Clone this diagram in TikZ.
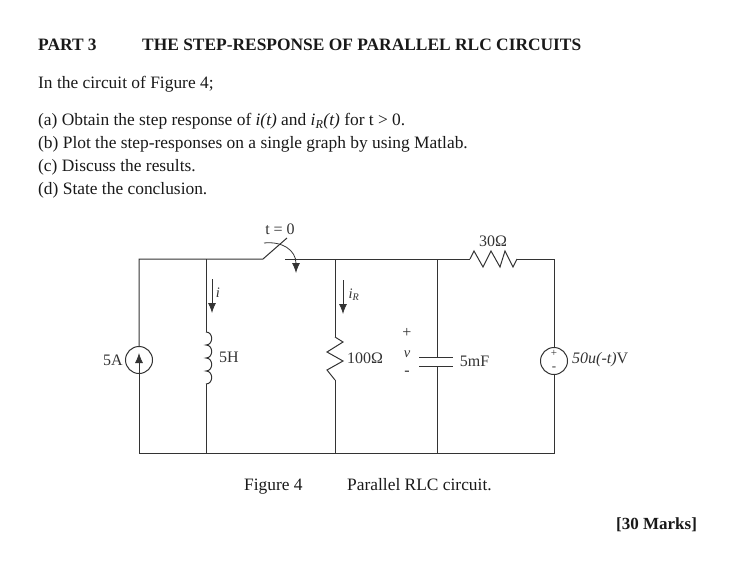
\documentclass[tikz,border=0pt]{standalone}
\usepackage{fontspec}
\setmainfont{Liberation Serif}
\usetikzlibrary{arrows.meta,positioning}
\definecolor{ink}{gray}{0.2}
\tikzstyle{invis}=[inner sep=0pt, anchor=base west, text=black!90, font=\fontsize{17.4}{18}\selectfont]
\tikzstyle{heading}=[invis, font=\fontsize{17.4}{18}\selectfont\bfseries]
\tikzstyle{label}=[inner sep=0pt, text=ink, font=\fontsize{16}{16}\selectfont]
\tikzstyle{wire}=[ink, line width=1pt]
\tikzstyle{source}=[draw=ink, line width=1pt, circle, inner sep=0pt, minimum size=27pt]
\tikzstyle{currentArrow}=[ink, line width=0.8pt, -{Latex[length=10pt,width=8pt]}]
\begin{document}
\begin{tikzpicture}[x=1pt,y=-1pt]
    \useasboundingbox (0,0) rectangle (750,576);

    % text above the circuit
    \node[heading] (part) at (38, 50) {PART 3};
    \node[heading] (title) at (142, 50) {THE STEP-RESPONSE OF PARALLEL RLC CIRCUITS};
    \node[invis] (intro) at (38, 88) {In the circuit of Figure 4;};
    \node[invis] (qa) at (38, 125.5) {(a) Obtain the step response of \textit{i(t)} and \textit{i\textsubscript{R}(t)} for t > 0.};
    \node[invis] (qb) at (38, 148) {(b) Plot the step-responses on a single graph by using Matlab.};
    \node[invis] (qc) at (38, 171) {(c) Discuss the results.};
    \node[invis] (qd) at (38, 194) {(d) State the conclusion.};

    % corners and junctions
    \coordinate (tl) at (139, 259);
    \coordinate (bl) at (139, 453);
    \coordinate (tL) at (206, 259);
    \coordinate (bL) at (206, 453);
    \coordinate (swa) at (263, 259);
    \coordinate (swb) at (287, 238);
    \coordinate (swc) at (285, 259);
    \coordinate (tR) at (335, 259);
    \coordinate (bR) at (335, 453);
    \coordinate (tC) at (437, 259);
    \coordinate (bC) at (437, 453);
    \coordinate (tr) at (554, 259);
    \coordinate (br) at (554, 453);

    % sources
    \node[source] (is) at (139, 360) {};
    \node[source] (vs) at (554, 361) {};
    \node[label, font=\fontsize{11}{11}\selectfont] (vsp) at (554, 353) {+};
    \node[label, font=\fontsize{13}{13}\selectfont] (vsm) at (554, 369) {-};

    % element ends
    \coordinate (la) at (206, 332);
    \coordinate (lb) at (206, 345);
    \coordinate (lc) at (206, 358);
    \coordinate (ld) at (206, 371);
    \coordinate (le) at (206, 384);
    \coordinate (ra) at (335, 337);
    \coordinate (rb) at (335, 380);
    \coordinate (sa) at (470, 259);
    \coordinate (sb) at (517, 259);
    \coordinate (ca) at (437, 357);
    \coordinate (cb) at (437, 366);
    \coordinate (cal) at (419, 357);
    \coordinate (car) at (453, 357);
    \coordinate (cbl) at (419, 366);
    \coordinate (cbr) at (453, 366);

    % wires
    \draw[wire] (is) -- (tl) -- (swa) -- (swb);
    \draw[wire] (swc) -- (sa);
    \draw[wire] (sb) -- (tr) -- (vs);
    \draw[wire] (is) -- (bl) -- (br) -- (vs);
    \draw[wire] (tL) -- (la);
    \draw[wire] (le) -- (bL);
    \draw[wire] (tR) -- (ra);
    \draw[wire] (rb) -- (bR);
    \draw[wire] (tC) -- (ca);
    \draw[wire] (cb) -- (bC);

    % elements
    \draw[wire] (la) to[out=0,in=0,looseness=1.5] (lb) to[out=0,in=0,looseness=1.5] (lc)
        to[out=0,in=0,looseness=1.5] (ld) to[out=0,in=0,looseness=1.5] (le);
    \draw[wire] (ra) -- ++(8, 5) -- ++(-16, 10) -- ++(16, 9) -- ++(-16, 9) -- (rb);
    \draw[wire] (sa) -- ++(4, -8) -- ++(9, 16) -- ++(8, -16) -- ++(9, 16) -- ++(5, -16) -- ++(8, 16) -- (sb);
    \draw[wire] (cal) -- (car);
    \draw[wire] (cbl) -- (cbr);

    % arrows
    \coordinate (ib) at (139, 353);
    \draw[currentArrow] (is.south) -- (ib);
    \coordinate (ila) at (212, 279);
    \coordinate (ilb) at (212, 313);
    \draw[currentArrow] (ila) -- (ilb);
    \coordinate (ira) at (343, 280);
    \coordinate (irb) at (343, 314);
    \draw[currentArrow] (ira) -- (irb);
    \coordinate (aa) at (264, 243);
    \coordinate (ab) at (296, 273);
    \draw[currentArrow] (aa) .. controls (282, 241) and (296, 250) .. (ab);

    % circuit labels
    \node[label] (tzero) at (280, 229) {t = 0};
    \node[label, font=\fontsize{14.5}{16}\selectfont\itshape] (li) at (218, 293) {i};
    \node[label, font=\fontsize{14.5}{16}\selectfont] (lir) at (354, 295) {\textit{i\textsubscript{R}}};
    \node[label, left=2pt of is] (lis) {5A};
    \node[label] (l5h) at (229, 357) {5H};
    \node[label] (l100) at (365, 358) {100Ω};
    \node[label] (lplus) at (407, 333) {+};
    \node[label, font=\fontsize{14.5}{16}\selectfont\itshape] (lv) at (407, 354) {v};
    \node[label] (lminus) at (407, 373) {-};
    \node[label] (l5m) at (474.5, 361) {5mF};
    \node[label] (l30) at (493, 241) {30Ω};
    \node[label, anchor=west] (l50) at (572, 360) {\textit{50u(-t)}V};

    % text below the circuit
    \node[invis] (fig) at (244, 490) {Figure 4};
    \node[invis] (cap) at (347, 490) {Parallel RLC circuit.};
    \node[heading, font=\fontsize{17}{18}\selectfont\bfseries] (marks) at (616, 529) {[30 Marks]};
\end{tikzpicture}
\end{document}
